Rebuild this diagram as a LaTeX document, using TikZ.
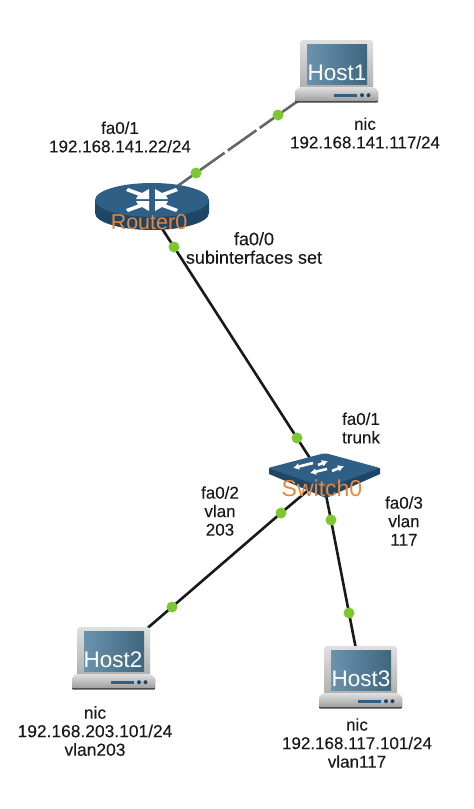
\documentclass[tikz,border=0pt]{standalone}
\usepackage{fontspec}
\setmainfont{Liberation Sans}
\usetikzlibrary{backgrounds,arrows.meta}
\definecolor{devblue}{HTML}{2F5F85}
\definecolor{devdark}{HTML}{1F4664}
\definecolor{scrleft}{HTML}{6C93AD}
\definecolor{scrright}{HTML}{3F667F}
\definecolor{dotgreen}{HTML}{7DC832}
\definecolor{lblorange}{HTML}{E5873F}
\definecolor{lnkgray}{HTML}{666666}
\tikzset{
  x=1pt,y=-1pt,
  lbl/.style={align=center,font=\fontsize{17}{18.5}\selectfont\addfontfeature{FakeBold=0.15},text=black!90,inner sep=0pt},
  hostlbl/.style={text=white,font=\fontsize{22.5}{24}\selectfont,inner sep=0pt},
  devlbl/.style={text=lblorange,inner sep=0pt},
  portdot/.style={circle,fill=dotgreen,minimum size=11pt,inner sep=0pt},
  darklink/.style={draw=black!90,line width=2.6pt},
  graylink/.style={draw=lnkgray,line width=2.6pt},
  graydash/.style={graylink,dash pattern=on 35pt off 4pt},
  swarrow/.style={draw=white,line width=2.6pt,-{Latex[length=6pt,width=7pt]}},
  laptop/.pic={
    \shade[top color=black!12,bottom color=black!32,rounded corners=3pt] (-35,-35) -- (38,-35) -- (38,16) -- (-35,16) -- cycle;
    \shade[left color=scrleft,right color=scrright] (-28,-31) rectangle (32,9);
    \fill[black!75,rounded corners=1pt] (-40,16) -- (43,16) -- (43,27.5) -- (-40,27.5) -- cycle;
    \shade[top color=black!12,bottom color=black!38,rounded corners=1pt] (-36,12) -- (39,12) -- (43,16) -- (43,26) -- (-40,26) -- (-40,16) -- cycle;
    \fill[devblue] (-1,19) rectangle (22,21.5);
    \fill[devdark] (27,20.2) circle (2);
    \fill[devdark] (33.5,20.2) circle (2);
  },
  routerpic/.pic={
    \fill[devdark] (-57,-4) -- (-57,9) arc[start angle=180,end angle=0,x radius=57,y radius=17] -- (57,-4) -- cycle;
    \fill[devblue] (0,-4) ellipse[x radius=57,y radius=17];
    \foreach \sx in {-1,1}{
      \fill[white] (\sx*3,-5) -- (\sx*3,-15) -- (\sx*10,-11) -- (\sx*24,-16) -- (\sx*26,-13) -- (\sx*14,-8.5) -- (\sx*16,-5) -- cycle;
      \fill[white] (\sx*3,-3) -- (\sx*3,7) -- (\sx*10,3) -- (\sx*24,8) -- (\sx*26,5) -- (\sx*14,0.5) -- (\sx*16,-3) -- cycle;
    }
  },
  switchpic/.pic={
    \fill[devdark] (-54,-9) -- (-54,-3) -- (3,21) -- (57,-3) -- (57,-9) -- cycle;
    \fill[devblue,rounded corners=2pt] (-55,-9) -- (2,-24) -- (57,-9) -- (3,11) -- cycle;
    \draw[swarrow] (-10,-14) -- (-30,-9);
    \draw[swarrow] (-5,-12) -- (5,-16);
    \draw[swarrow] (4,-8) -- (-13,-4);
    \draw[swarrow] (9,-6) -- (21,-11);
  }
}
\begin{document}
\begin{tikzpicture}
\useasboundingbox (0,0) rectangle (474,809);
% device graphics
\pic at (335,75) {laptop};
\pic at (112,662) {laptop};
\pic at (359,681) {laptop};
\pic at (152,204) {routerpic};
\pic at (323,477) {switchpic};
% device nodes
\node[hostlbl] (h1) at (337,73) {Host1};
\node[hostlbl] (h2) at (113,660) {Host2};
\node[hostlbl] (h3) at (361,679) {Host3};
\node[devlbl,font=\fontsize{21.5}{23}\selectfont] (r0) at (149,222) {Router0};
\node[devlbl,font=\fontsize{23}{25}\selectfont] (s0) at (322,488) {Switch0};
% port dots
\node[portdot] (d1) at (196,173) {};
\node[portdot] (d2) at (278,115) {};
\node[portdot] (d3) at (174,247) {};
\node[portdot] (d4) at (297,438) {};
\node[portdot] (d5) at (281,513) {};
\node[portdot] (d6) at (172,607) {};
\node[portdot] (d7) at (331,520) {};
\node[portdot] (d8) at (349,613) {};
% hidden link ends behind the device icons
\coordinate (r0a) at (152,204);
\coordinate (r0b) at (146,204);
\coordinate (s0a) at (322,477);
\coordinate (s0b) at (312,487);
\coordinate (s0c) at (326,495);
\coordinate (h1a) at (335,75);
\coordinate (h2a) at (115,656);
\coordinate (h3a) at (360,670);
% links
\begin{pgfonlayer}{background}
\fill[white] (0,0) rectangle (474,809);
\draw[graylink] (r0a) -- (d1.center);
\draw[graydash] (d1.center) -- (d2.center);
\draw[graylink] (d2.center) -- (h1a);
\draw[darklink] (r0b) -- (d3.center) -- (d4.center) -- (s0a);
\draw[darklink] (s0b) -- (d5.center) -- (d6.center) -- (h2a);
\draw[darklink] (s0c) -- (d7.center) -- (d8.center) -- (h3a);
\end{pgfonlayer}
% labels
\node[lbl] (t1) at (120,137) {fa0/1\\192.168.141.22/24};
\node[lbl] (t2) at (365,133) {nic\\192.168.141.117/24};
\node[lbl,font=\fontsize{18}{18.5}\selectfont\addfontfeature{FakeBold=0.15}] (t3) at (254,248) {fa0/0\\subinterfaces set};
\node[lbl] (t4) at (361,428) {fa0/1\\trunk};
\node[lbl] (t5) at (220,511) {fa0/2\\vlan\\203};
\node[lbl] (t6) at (404,521) {fa0/3\\vlan\\117};
\node[lbl,font=\fontsize{17.4}{18.5}\selectfont\addfontfeature{FakeBold=0.15}] (t7) at (95,731) {nic\\192.168.203.101/24\\vlan203};
\node[lbl] (t8) at (357,743) {nic\\192.168.117.101/24\\vlan117};
\end{tikzpicture}
\end{document}
